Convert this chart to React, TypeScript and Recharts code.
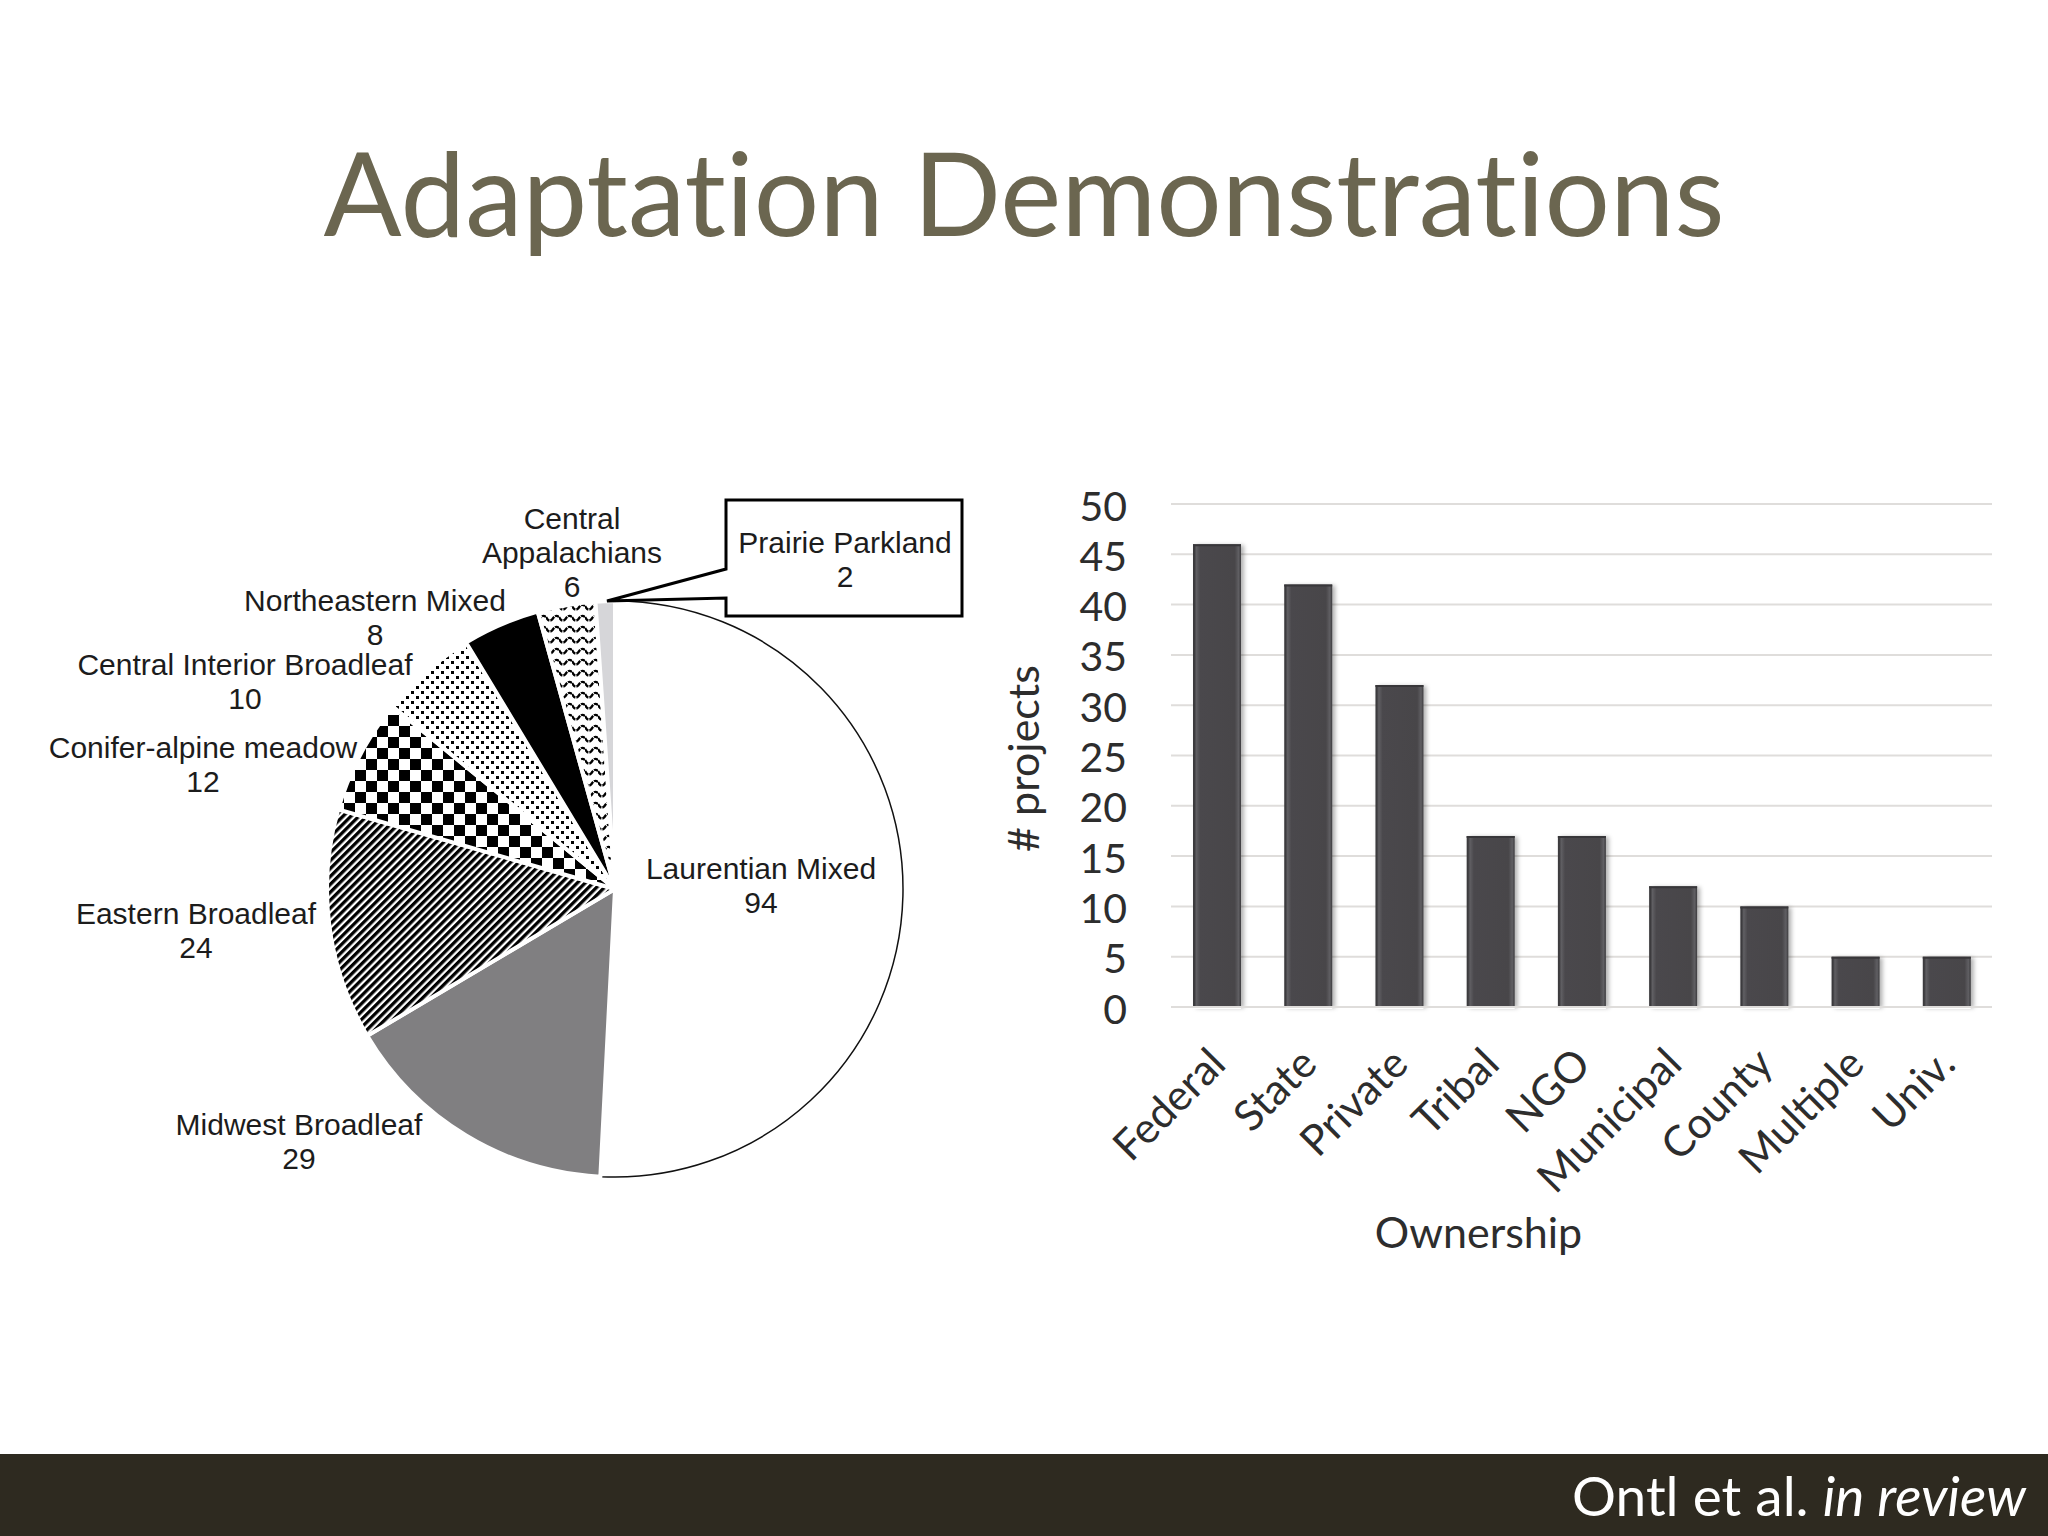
import { Bar, BarChart, CartesianGrid, Cell, Label, Pie, PieChart, XAxis, YAxis } from "recharts";

const regions = [
  "Laurentian Mixed",
  "Midwest Broadleaf",
  "Eastern Broadleaf",
  "Conifer-alpine meadow",
  "Central Interior Broadleaf",
  "Northeastern Mixed",
  "Central Appalachians",
  "Prairie Parkland",
];
const regionCounts = [94, 29, 24, 12, 10, 8, 6, 2];

const owners = ["Federal", "State", "Private", "Tribal", "NGO", "Municipal", "County", "Multiple", "Univ."];
const ownerCounts = [46, 42, 32, 17, 17, 12, 10, 5, 5];
const yTicks = [0, 5, 10, 15, 20, 25, 30, 35, 40, 45, 50];

const pieData = regions.map((name, i) => ({ name, value: regionCounts[i] }));
const barData = owners.map((owner, i) => ({ owner, projects: ownerCounts[i] }));

const sliceFills = [
  "#ffffff",
  "#807f81",
  "url(#stripes)",
  "url(#checks)",
  "url(#dots)",
  "#000000",
  "url(#waves)",
  "#d6d6d9",
];

// text lines and where they sit, page coords are offset by the chart's top
const PIE_TOP = 460;
const labelSpots = [
  { x: 761, y: 868, lines: ["Laurentian Mixed", "94"] },
  { x: 299, y: 1124, lines: ["Midwest Broadleaf", "29"] },
  { x: 196, y: 913, lines: ["Eastern Broadleaf", "24"] },
  { x: 203, y: 747, lines: ["Conifer-alpine meadow", "12"] },
  { x: 245, y: 664, lines: ["Central Interior Broadleaf", "10"] },
  { x: 375, y: 600, lines: ["Northeastern Mixed", "8"] },
  { x: 572, y: 518, lines: ["Central", "Appalachians", "6"] },
  { x: 845, y: 542, lines: ["Prairie Parkland", "2"] },
];

function PieLabel({ index }: { index: number }) {
  const spot = labelSpots[index];
  return (
    <g>
      {index === 7 && (
        <path
          d={`M726 ${500 - PIE_TOP} H962 V${616 - PIE_TOP} H726 V${598 - PIE_TOP} L607 ${601 - PIE_TOP} L726 ${569 - PIE_TOP} Z`}
          fill="#fff"
          stroke="#000"
          strokeWidth={3}
        />
      )}
      <text
        textAnchor="middle"
        fontFamily="'Liberation Sans', Arial, sans-serif"
        fontSize={30}
        fill="#1c1c1c"
      >
        {spot.lines.map((line, i) => (
          <tspan key={i} x={spot.x} y={spot.y + 11 - PIE_TOP + i * 33.8}>
            {line}
          </tspan>
        ))}
      </text>
    </g>
  );
}

function ShadedBar({ x, y, width, height }: any) {
  return (
    <g>
      <rect
        x={x}
        y={y}
        width={width}
        height={height}
        fill="url(#barFill)"
        style={{ filter: "drop-shadow(3px 1px 2px rgba(0,0,0,0.3))" }}
      />
      <line x1={x} x2={x + width} y1={y + 1} y2={y + 1} stroke="#38373a" strokeWidth={2} />
      <line x1={x} x2={x + width} y1={y + height + 1} y2={y + height + 1} stroke="#fff" strokeWidth={2} />
    </g>
  );
}

const rightFont = "Lato, sans-serif";

export default function App() {
  return (
    <div
      style={{
        position: "absolute",
        left: 0,
        top: 0,
        width: 2048,
        height: 1536,
        background: "#fff",
        overflow: "hidden",
      }}
    >
      <div
        style={{
          position: "absolute",
          left: 0,
          width: 2048,
          top: 122,
          textAlign: "center",
          fontFamily: "Lato, sans-serif",
          fontSize: 115.5,
          fontVariantLigatures: "none",
          lineHeight: "140px",
          color: "#6b6650",
        }}
      >
        Adaptation Demonstrations
      </div>

      <div style={{ position: "absolute", left: 0, top: PIE_TOP }}>
        <PieChart width={980} height={760} margin={{ top: 0, right: 0, bottom: 0, left: 0 }}>
          <defs>
            <pattern id="stripes" width="5.6" height="5.6" patternUnits="userSpaceOnUse" patternTransform="rotate(45)">
              <rect width="5.6" height="5.6" fill="#fff" />
              <rect width="3.3" height="5.6" fill="#000" />
            </pattern>
            <pattern id="checks" width="22" height="22" patternUnits="userSpaceOnUse" x="3" y="2">
              <rect width="22" height="22" fill="#fff" />
              <rect width="11" height="11" fill="#000" />
              <rect x="11" y="11" width="11" height="11" fill="#000" />
            </pattern>
            <pattern id="dots" width="10" height="10" patternUnits="userSpaceOnUse">
              <rect width="10" height="10" fill="#fff" />
              <rect x="1" y="1" width="3" height="3" fill="#000" />
              <rect x="6" y="6" width="3" height="3" fill="#000" />
            </pattern>
            <pattern id="waves" width="13" height="11" patternUnits="userSpaceOnUse">
              <rect width="13" height="11" fill="#fff" />
              <path d="M0 3 Q3.25 9 6.5 5 Q9.75 0 13 3" fill="none" stroke="#000" strokeWidth="2.4" strokeDasharray="5 1" />
            </pattern>
          </defs>
          <Pie
            data={pieData}
            dataKey="value"
            nameKey="name"
            cx={615}
            cy={889 - PIE_TOP}
            innerRadius={0}
            outerRadius={288}
            startAngle={90}
            endAngle={-270}
            stroke="#fff"
            strokeWidth={4}
            labelLine={false}
            label={PieLabel as any}
            isAnimationActive={false}
          >
            {pieData.map((d, i) => (
              <Cell
                key={d.name}
                fill={sliceFills[i]}
                stroke={i === 0 ? "#111" : "#fff"}
                strokeWidth={i === 0 ? 1.5 : 4}
              />
            ))}
          </Pie>
        </PieChart>
      </div>

      <div style={{ position: "absolute", left: 980, top: 480 }}>
        <BarChart
          width={1020}
          height={800}
          data={barData}
          margin={{ top: 24, right: 8, bottom: 0, left: 0 }}
        >
          <defs>
            <linearGradient id="barFill" x1="0" y1="0" x2="1" y2="0">
              <stop offset="0" stopColor="#3c3b3e" />
              <stop offset="0.03" stopColor="#3c3b3e" />
              <stop offset="0.07" stopColor="#605f63" />
              <stop offset="0.15" stopColor="#4a484c" />
              <stop offset="0.87" stopColor="#484649" />
              <stop offset="0.95" stopColor="#605f63" />
              <stop offset="1" stopColor="#3c3b3e" />
            </linearGradient>
          </defs>
          <CartesianGrid vertical={false} stroke="#dfdddb" strokeWidth={2} />
          <XAxis
            dataKey="owner"
            height={273}
            interval={0}
            angle={-45}
            textAnchor="end"
            axisLine={{ stroke: "#dfdddb", strokeWidth: 2 }}
            tickLine={false}
            tick={{ fontFamily: rightFont, fontSize: 42.5, fill: "#2d2d2d", dx: -10, dy: 30 }}
          >
            <Label
              value="Ownership"
              position="insideBottom"
              offset={32}
              dx={-103}
              style={{ fontFamily: rightFont, fontSize: 43, fill: "#2d2d2d" }}
            />
          </XAxis>
          <YAxis
            width={191}
            domain={[0, 50]}
            ticks={yTicks}
            interval={0}
            axisLine={false}
            tickLine={false}
            tick={{ fontFamily: rightFont, fontSize: 41, fill: "#2d2d2d", dx: -36, dy: 2 }}
          >
            <Label
              value="# projects"
              angle={-90}
              position="insideLeft"
              offset={44}
              dy={3}
              style={{ fontFamily: rightFont, fontSize: 43, fill: "#2d2d2d", textAnchor: "middle" }}
            />
          </YAxis>
          <Bar dataKey="projects" barSize={48} shape={ShadedBar} isAnimationActive={false} />
        </BarChart>
      </div>

      <div
        style={{
          position: "absolute",
          left: 0,
          top: 1454,
          width: 2048,
          height: 82,
          background: "#2e2a20",
          color: "#fff",
          fontFamily: "Lato, sans-serif",
          fontSize: 55,
          lineHeight: "82px",
          textAlign: "right",
          boxSizing: "border-box",
          paddingRight: 22,
        }}
      >
        Ontl et al. <i>in review</i>
      </div>
    </div>
  );
}
